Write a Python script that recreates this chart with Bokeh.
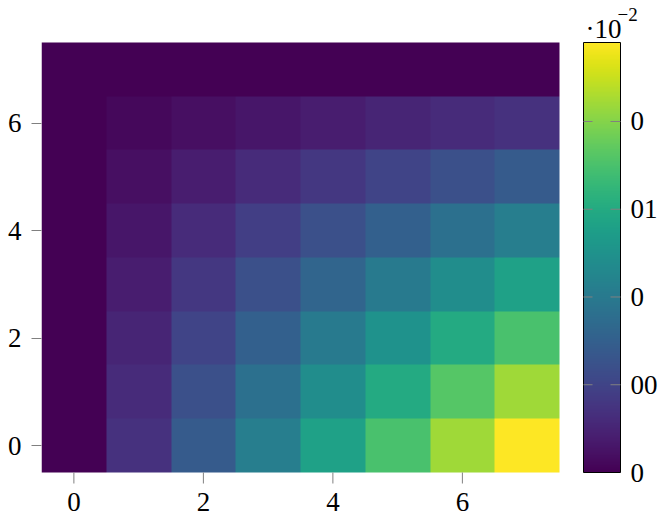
import numpy as np
from bokeh.plotting import figure
from bokeh.models import (LinearColorMapper, FixedTicker, Range1d)
from bokeh.core.properties import value
from bokeh.palettes import Viridis256
from bokeh.embed import file_html
from bokeh.resources import INLINE

# ---- data ----
x_ticks = [0, 2, 4, 6]
y_ticks = [0, 2, 4, 6]
# rows are y = 0..7 (bottom to top), columns x = 0..7
row_y0 = [0, 7, 14, 21, 28, 35, 42, 49]
row_y1 = [0, 6, 12, 18, 24, 30, 36, 42]
row_y2 = [0, 5, 10, 15, 20, 25, 30, 35]
row_y3 = [0, 4, 8, 12, 16, 20, 24, 28]
row_y4 = [0, 3, 6, 9, 12, 15, 18, 21]
row_y5 = [0, 2, 4, 6, 8, 10, 12, 14]
row_y6 = [0, 1, 2, 3, 4, 5, 6, 7]
row_y7 = [0, 0, 0, 0, 0, 0, 0, 0]
value_low = 0
value_high = 49
cb_ticks = [0, 10, 20, 30, 40]
cb_tick_labels = ["0", "00", "0", "01", "0"]
cb_title = "·10"
cb_title_exp = "−2"

FONT = "Liberation Serif"
FS = "27px"
GRAY = "#808080"

# layout in pixels
HEAT_W, HEAT_H = 518, 430
TOP_SPACE = 42          # room above heatmap for the colorbar scale label
BOTTOM_SPACE = 20       # room below heatmap (x tick marks, lowest colorbar label)
GAP, CB_W = 24, 37      # gap heatmap->colorbar and colorbar width
RIGHT_SPACE = 46        # room right of the colorbar for its labels

Z = np.array([row_y0, row_y1, row_y2, row_y3, row_y4, row_y5, row_y6, row_y7], dtype=float)
mapper = LinearColorMapper(palette=Viridis256, low=value_low, high=value_high)

ux = HEAT_W / 8.0
uy = HEAT_H / 8.0
x_end = 7.5 + (GAP + CB_W + RIGHT_SPACE) / ux
y_start = -0.5 - BOTTOM_SPACE / uy
y_end = 7.5 + TOP_SPACE / uy
cb_x0 = 7.5 + GAP / ux
cb_w = CB_W / ux
cb_x1 = cb_x0 + cb_w
cb_px = HEAT_H / (value_high - value_low)
cb_start = value_low - BOTTOM_SPACE / cb_px
cb_end = value_high + TOP_SPACE / cb_px

p = figure(x_range=Range1d(-0.5, x_end), y_range=Range1d(y_start, y_end),
           frame_width=HEAT_W + GAP + CB_W + RIGHT_SPACE,
           frame_height=HEAT_H + TOP_SPACE + BOTTOM_SPACE,
           min_border_left=41, min_border_top=0, min_border_right=0, min_border_bottom=29,
           output_backend="svg", toolbar_location=None)
p.title.visible = False
p.extra_y_ranges = {"cb": Range1d(cb_start, cb_end)}

p.image(image=[Z], x=-0.5, y=-0.5, dw=8, dh=8, color_mapper=mapper)

# x tick marks hanging below the heatmap
p.segment(x0=x_ticks, y0=[-0.5] * len(x_ticks), x1=x_ticks,
          y1=[-0.5 - 11 / uy] * len(x_ticks), line_color=GRAY, line_width=1)

# colorbar
grad = np.linspace(value_low, value_high, 256).reshape(256, 1)
p.image(image=[grad], x=cb_x0, y=value_low, dw=cb_w, dh=value_high - value_low,
        color_mapper=mapper, y_range_name="cb")
p.rect(x=cb_x0 + cb_w / 2, y=(value_low + value_high) / 2, width=cb_w,
       height=value_high - value_low, fill_color=None, line_color="black",
       line_width=1, y_range_name="cb")
inner = cb_ticks[1:]
n = len(inner)
p.segment(x0=[cb_x0] * n, y0=inner, x1=[cb_x0 + 9 / ux] * n, y1=inner,
          line_color=GRAY, line_width=1, y_range_name="cb")
p.segment(x0=[cb_x1 - 10 / ux] * n, y0=inner, x1=[cb_x1] * n, y1=inner,
          line_color=GRAY, line_width=1, y_range_name="cb")
p.text(x=[cb_x1 + 10 / ux] * len(cb_ticks), y=cb_ticks, text=cb_tick_labels,
       y_range_name="cb", text_font=value(FONT), text_font_size=FS,
       text_color="black", text_baseline="middle", text_align="left")

p.outline_line_color = None
p.grid.visible = False
for ax, tk in ((p.xaxis, x_ticks), (p.yaxis, y_ticks)):
    ax.ticker = FixedTicker(ticks=tk)
    ax.axis_line_color = None
    ax.major_tick_line_color = GRAY
    ax.major_tick_in = 0
    ax.major_tick_out = 10
    ax.minor_tick_line_color = None
    ax.major_label_text_font = FONT
    ax.major_label_text_font_size = FS
    ax.major_label_text_color = "black"
p.xaxis.major_tick_line_color = None
p.xaxis.major_tick_out = 0
p.xaxis.major_label_standoff = 0
p.yaxis.major_label_standoff = 10

# scale label above the colorbar
p.text(x=[cb_x0 + 2 / ux], y=[value_high + 14 / cb_px], text=[cb_title],
       y_range_name="cb", text_font=value(FONT), text_font_size=FS,
       text_color="black", text_baseline="alphabetic", text_align="left")
p.text(x=[cb_x0 + 34 / ux], y=[value_high + 28 / cb_px], text=[cb_title_exp],
       y_range_name="cb", text_font=value(FONT), text_font_size="19px",
       text_color="black", text_baseline="alphabetic", text_align="left")

open("out.html", "w").write(file_html(p, INLINE))
